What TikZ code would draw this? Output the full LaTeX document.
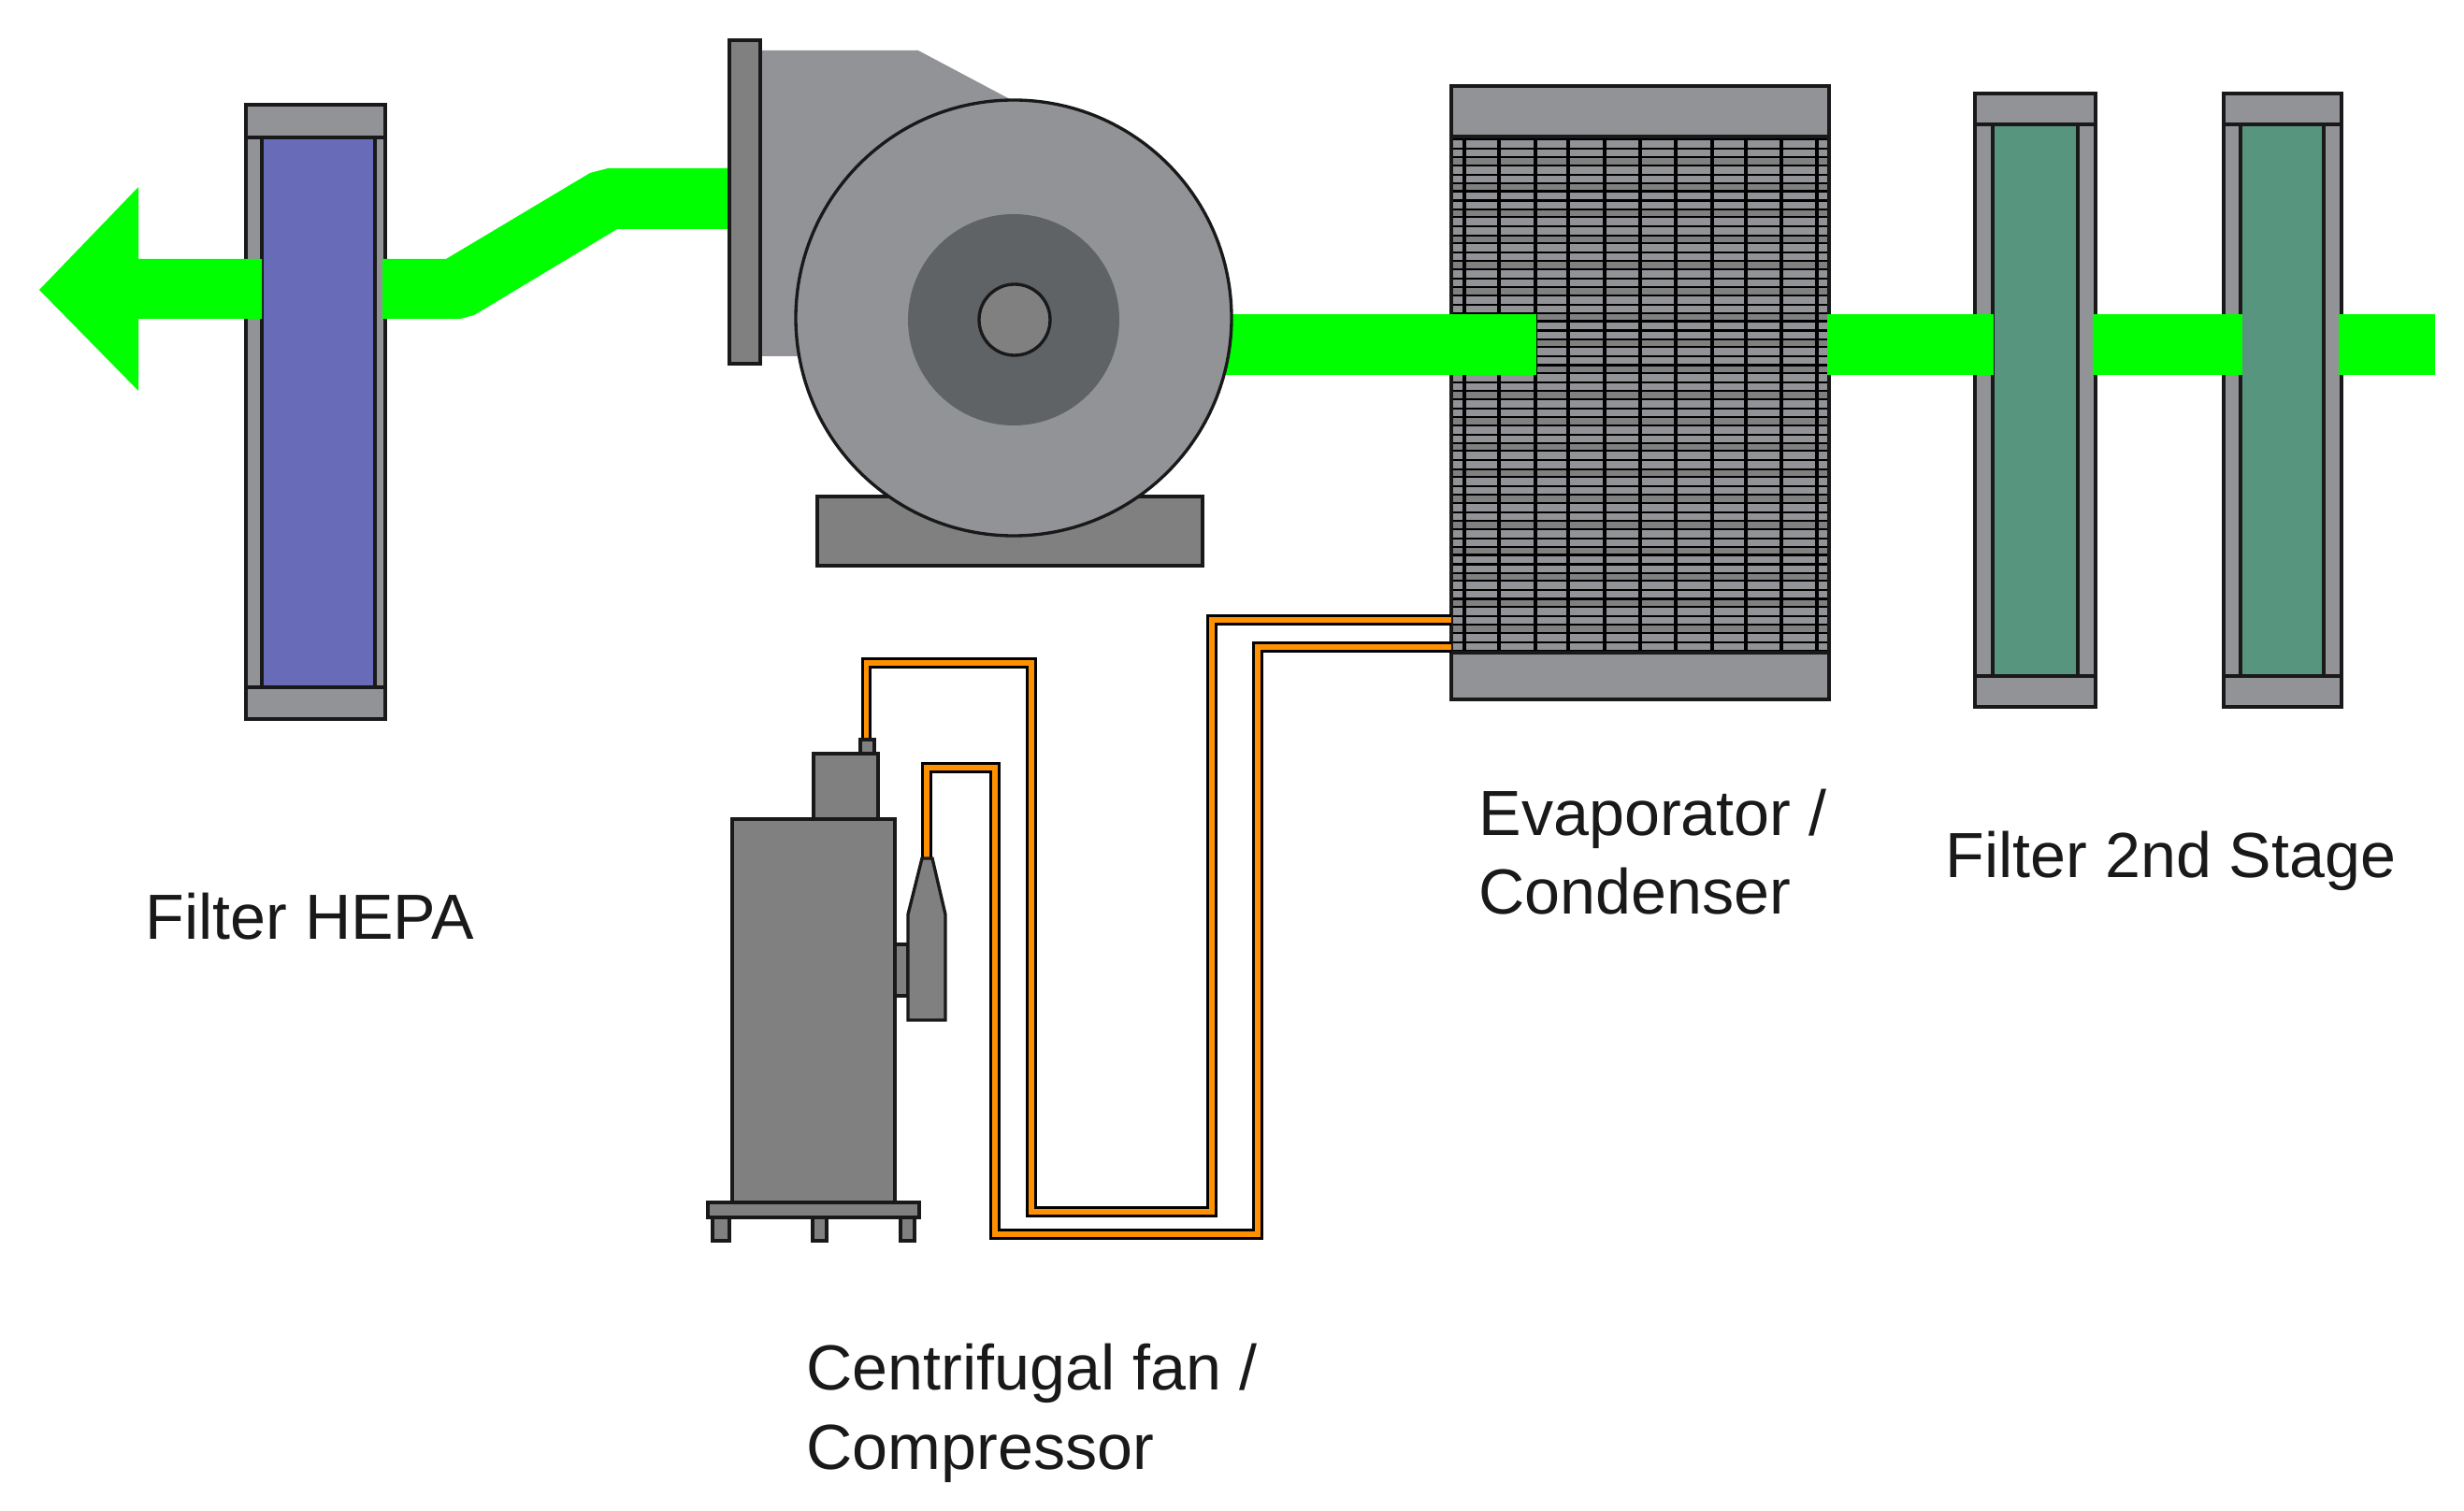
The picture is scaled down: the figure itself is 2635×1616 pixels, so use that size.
\documentclass[tikz,border=0pt]{standalone}
\usepackage{fontspec}
\setmainfont{Liberation Sans}
\definecolor{casegray}{HTML}{929397}
\definecolor{bodygray}{HTML}{808080}
\definecolor{rotorgray}{HTML}{5F6366}
\definecolor{airgreen}{HTML}{00FF00}
\definecolor{pipeorange}{HTML}{FF9000}
\definecolor{hepablue}{HTML}{676BB8}
\definecolor{stagegreen}{HTML}{57957F}
\tikzset{
  outline/.style={draw=black!90,line width=0.95pt},
  casepart/.style={outline,fill=casegray},
  bodypart/.style={outline,fill=bodygray},
  airflow/.style={fill=airgreen},
  label/.style={anchor=base west,inner sep=0pt,align=left,text=black!90,
    font=\fontsize{19.4}{23.9}\selectfont},
}
\begin{document}
\begin{tikzpicture}[x=0.01cm,y=-0.01cm]
    \path[use as bounding box] (0,0) rectangle (2635,1616);

    % filter HEPA
    \path[casepart] (263,147) rectangle (412,735);
    \path[casepart,fill=hepablue] (280,147) rectangle (401,735);
    \path[casepart] (263,112) rectangle (412,147);
    \path[casepart] (263,735) rectangle (412,769);

    % filters 2nd stage
    \foreach \px/\qx/\rx/\sx in {2112/2131/2222/2241, 2378/2396/2485/2504} {
      \path[casepart] (\px,133) rectangle (\sx,723);
      \path[casepart,fill=stagegreen] (\qx,133) rectangle (\rx,723);
      \path[casepart] (\px,100) rectangle (\sx,133);
      \path[casepart] (\px,723) rectangle (\sx,756);
    }

    % evaporator coil
    \fill[casegray] (1552,146) rectangle (1956,698);
    \foreach \k in {0,...,19} {
      \fill[bodygray] (1552,149+27.78*\k+19.3) rectangle (1956,149+27.78*\k+27.78);
      \draw[line width=0.6pt] (1552,149+27.78*\k) -- (1956,149+27.78*\k);
      \draw[line width=0.6pt] (1552,149+27.78*\k+10) -- (1956,149+27.78*\k+10);
      \draw[line width=0.6pt] (1552,149+27.78*\k+19.3) -- (1956,149+27.78*\k+19.3);
    }
    \foreach \cx in {1566,1603,1642,1677,1716,1754,1792,1831,1867,1905,1943} {
      \draw[line width=1.1pt] (\cx,146) -- (\cx,698);
    }
    \draw[outline] (1552,146) -- (1552,698);
    \draw[outline] (1956,146) -- (1956,698);
    \path[casepart] (1552,92) rectangle (1956,146);
    \path[casepart] (1552,698) rectangle (1956,748);

    % air stream
    \fill[airflow] (42,310) -- (148,200) -- (148,277) -- (280,277) -- (280,341) -- (148,341) -- (148,418) -- cycle;
    \fill[airflow] (409,277) -- (477,277) -- (631,185) -- (650,180) -- (785,180) -- (785,245) -- (660,245) -- (507,337) -- (492,341) -- (409,341) -- cycle;
    \fill[airflow] (1300,336) rectangle (1643,401);
    \fill[airflow] (1954,336) rectangle (2132,401);
    \fill[airflow] (2238,336) rectangle (2398,401);
    \fill[airflow] (2501,336) rectangle (2604,401);

    % fan
    \fill[casegray] (812,54) -- (982,54) -- (1080,106) -- (1080,381) -- (812,381) -- cycle;
    \path[bodypart] (780,43) rectangle (813,389);
    \path[bodypart] (874,531) rectangle (1286,605);
    \path[casepart] (1084,340) circle (233);
    \fill[rotorgray] (1084,342) circle (113);
    \path[bodypart] (1085,342) circle (38);

    % pipes
    \foreach \ink/\wd in {black/3.2pt, pipeorange/1.7pt} {
      \draw[\ink,line width=\wd] (926.5,795) -- (926.5,709) -- (1103,709) -- (1103,1296) -- (1296,1296) -- (1296,663) -- (1552,663);
      \draw[\ink,line width=\wd] (991,920) -- (991,821) -- (1064,821) -- (1064,1320) -- (1345,1320) -- (1345,692) -- (1552,692);
    }

    % compressor
    \path[bodypart] (920,791) rectangle (935,806);
    \path[bodypart] (870,806) rectangle (939,876);
    \path[bodypart] (783,876) rectangle (957,1286);
    \path[bodypart] (762,1302) rectangle (780,1327);
    \path[bodypart] (869,1302) rectangle (884,1327);
    \path[bodypart] (963,1302) rectangle (978,1327);
    \path[bodypart] (757,1286) rectangle (983,1302);
    \path[bodypart] (957,1010) rectangle (971,1065);
    \path[bodypart] (971,1091) -- (971,978) -- (986,918) -- (997,918) -- (1011,978) -- (1011,1091) -- cycle;

    \node (hepa-label) at (155,1005) [label] {Filter HEPA};
    \node (evaporator-label) at (1581,978) [label] {Evaporator /\\Condenser};
    \node (stage-label) at (2080,939) [label] {Filter 2nd Stage};
    \node (fan-label) at (862,1571) [label] {Centrifugal fan /\\Compressor};
\end{tikzpicture}
\end{document}
